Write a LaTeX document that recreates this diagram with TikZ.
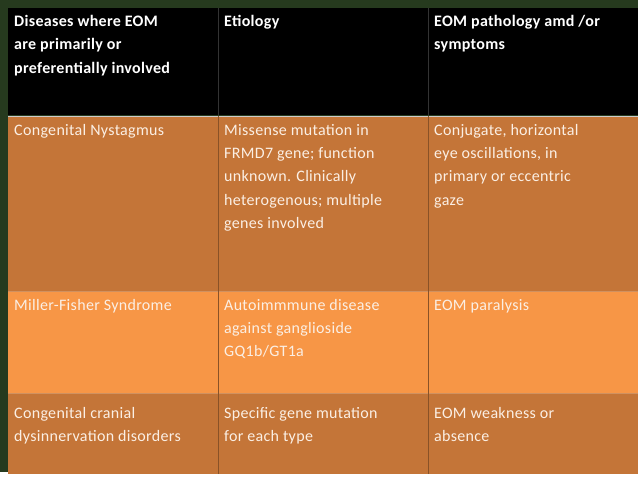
\documentclass[tikz,border=0pt]{standalone}
\usepackage{fontspec}
\setmainfont{Carlito}[LetterSpace=2]
\definecolor{bg}{HTML}{263A1E}
\definecolor{rowA}{HTML}{C47538}
\definecolor{rowB}{HTML}{F79646}
\definecolor{txt}{HTML}{FBEFE4}
\begin{document}
\begin{tikzpicture}[x=1pt,y=-1pt,
  cell/.style={anchor=north west,align=left,font=\fontsize{16}{23.3}\selectfont,text=txt,inner sep=0pt},
  head/.style={cell,text=white,font=\fontsize{16}{23.3}\selectfont\bfseries},
  sep/.style={draw=white!80!black,line width=0.6pt}]
\useasboundingbox (0,0) rectangle (638,479);
\fill[white] (0,0) rectangle (638,479);
\fill[bg] (0,0) rectangle (638,472);
\fill[black] (8,8) rectangle (638,115);
\fill[rowA] (8,116) rectangle (638,291);
\fill[rowB] (8,291) rectangle (638,393);
\fill[rowA] (8,393) rectangle (638,474);
\draw[sep] (8,116) -- (638,116);
\draw[sep,draw=rowA!80!white] (8,291) -- (638,291) (8,393) -- (638,393);
\draw[draw=gray!40!black,line width=0.5pt] (218,8) -- (218,115) (428,8) -- (428,115);
\draw[draw=rowA!70!black,line width=0.5pt] (218,116) -- (218,474) (428,116) -- (428,474);
\node[head] (h1) at (14,15) {Diseases where EOM\\are primarily or\\preferentially involved};
\node[head] (h2) at (224,15) {Etiology};
\node[head] (h3) at (434,15) {EOM pathology amd /or\\symptoms};
\node[cell] (a1) at (14,124) {Congenital Nystagmus};
\node[cell] (a2) at (224,124) {Missense mutation in\\FRMD7 gene; function\\unknown. Clinically\\heterogenous; multiple\\genes involved};
\node[cell] (a3) at (434,124) {Conjugate, horizontal\\eye oscillations, in\\primary or eccentric\\gaze};
\node[cell] (b1) at (14,299) {Miller-Fisher Syndrome};
\node[cell] (b2) at (224,299) {Autoimmmune disease\\against ganglioside\\GQ1b/GT1a};
\node[cell] (b3) at (434,299) {EOM paralysis};
\node[cell] (c1) at (14,407) {Congenital cranial\\dysinnervation disorders};
\node[cell] (c2) at (224,407) {Specific gene mutation\\for each type};
\node[cell] (c3) at (434,407) {EOM weakness or\\absence};
\end{tikzpicture}
\end{document}
